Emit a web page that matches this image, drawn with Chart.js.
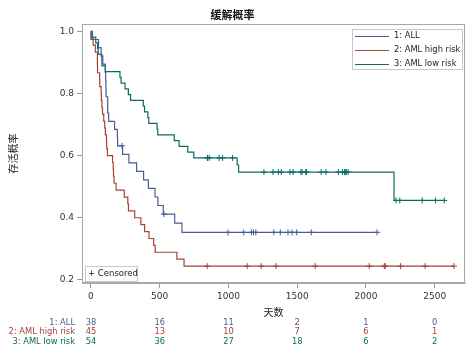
<!DOCTYPE html>
<html>
<head>
<meta charset="utf-8">
<script src="https://cdn.jsdelivr.net/npm/chart.js@4.4.1/dist/chart.umd.min.js"></script>
<style>
  html, body { margin: 0; padding: 0; background: #fff; }
  #wrap { width: 474px; height: 355px; position: relative; }
</style>
</head>
<body>
<div id="wrap"><canvas id="c" width="474" height="355"></canvas></div>
<script>
// ---------- data ----------
const chartTitle = '缓解概率';
const xTitle = '天数';
const yTitle = '存活概率';
const groupNames = ['1: ALL', '2: AML high risk', '3: AML low risk'];
const xTicks = [0, 500, 1000, 1500, 2000, 2500];
const yTicks = [0.2, 0.4, 0.6, 0.8, 1.0];

// ALL: step times and survival estimates
const allTimes = [0, 1, 55, 74, 86, 104, 107, 109, 110, 122, 129, 172, 192, 194, 230, 276, 332, 383, 418, 466, 487, 526, 609, 662, 2081];
const allSurv  = [1, 0.9737, 0.9474, 0.9211, 0.8947, 0.8684, 0.8421, 0.8158, 0.7895, 0.7368, 0.7105, 0.6842, 0.6579, 0.6316, 0.6041, 0.5767, 0.5492, 0.5217, 0.4943, 0.4668, 0.4394, 0.4119, 0.3825, 0.3531, 0.3531];
const allCensor = [226, 530, 996, 1111, 1167, 1182, 1199, 1330, 1377, 1433, 1462, 1496, 1602, 2081];

// AML high risk
const highTimes = [0, 2, 16, 32, 47, 48, 63, 64, 74, 76, 80, 84, 93, 100, 105, 113, 115, 120, 157, 162, 164, 168, 183, 242, 268, 273, 318, 363, 390, 422, 456, 467, 625, 677, 2640];
const highSurv  = [1, 0.9778, 0.9556, 0.9333, 0.8889, 0.8667, 0.8444, 0.8222, 0.8000, 0.7778, 0.7556, 0.7333, 0.7111, 0.6889, 0.6667, 0.6444, 0.6222, 0.6000, 0.5778, 0.5556, 0.5333, 0.5111, 0.4889, 0.4667, 0.4444, 0.4222, 0.4000, 0.3778, 0.3556, 0.3333, 0.3111, 0.2889, 0.2667, 0.2444, 0.2444];
const highCensor = [845, 1136, 1238, 1345, 1631, 2024, 2133, 2140, 2252, 2430, 2640];

// AML low risk
const lowTimes = [0, 10, 35, 48, 53, 79, 80, 105, 211, 219, 248, 272, 288, 381, 390, 414, 421, 481, 486, 606, 641, 704, 748, 1063, 1074, 2204, 2569];
const lowSurv  = [1, 0.9815, 0.9630, 0.9444, 0.9259, 0.9074, 0.8889, 0.8704, 0.8519, 0.8333, 0.8148, 0.7963, 0.7778, 0.7593, 0.7407, 0.7222, 0.7037, 0.6852, 0.6667, 0.6481, 0.6296, 0.6111, 0.5926, 0.5698, 0.5470, 0.4558, 0.4558];
const lowCensor = [847, 848, 860, 932, 957, 1030, 1258, 1324, 1363, 1384, 1447, 1470, 1527, 1535, 1562, 1568, 1674, 1709, 1799, 1829, 1843, 1850, 1857, 1870, 2218, 2246, 2409, 2506, 2569];

// numbers at risk at xTicks
const riskAll  = [38, 16, 11, 2, 1, 0];
const riskHigh = [45, 13, 10, 7, 6, 1];
const riskLow  = [54, 36, 27, 18, 6, 2];

// ---------- styling ----------
const colors = ['#4a5a9a', '#a8413a', '#0b6b62'];
const FONT = '"DejaVu Sans", "Noto Sans CJK SC", sans-serif';
const CJK = '"Noto Sans CJK SC", "DejaVu Sans", sans-serif';

function survAt(times, surv, t) {
  let s = surv[0];
  for (let i = 0; i < times.length; i++) { if (times[i] <= t) s = surv[i]; }
  return s;
}
function stepData(times, surv) { return times.map((t, i) => ({ x: t, y: surv[i] })); }
function censorData(times, surv, cens) { return cens.map(t => ({ x: t, y: survAt(times, surv, t) })); }

const groups = [
  { times: allTimes, surv: allSurv, cens: allCensor, risk: riskAll },
  { times: highTimes, surv: highSurv, cens: highCensor, risk: riskHigh },
  { times: lowTimes, surv: lowSurv, cens: lowCensor, risk: riskLow }
];

const datasets = [];
groups.forEach((g, i) => {
  datasets.push({
    label: groupNames[i], data: stepData(g.times, g.surv), showLine: true, stepped: 'before',
    borderColor: colors[i], borderWidth: 1.2, pointRadius: 0, fill: false, order: 2
  });
});
groups.forEach((g, i) => {
  datasets.push({
    label: groupNames[i] + ' censored', data: censorData(g.times, g.surv, g.cens), showLine: false,
    pointStyle: 'cross', pointRadius: 3, borderColor: colors[i], borderWidth: 1, backgroundColor: colors[i], order: 1
  });
});

const overlay = {
  id: 'overlay',
  afterDraw(chart) {
    const ctx = chart.ctx;
    const a = chart.chartArea;
    const xs = chart.scales.x;
    ctx.save();
    // frame
    ctx.strokeStyle = '#a8a8a8';
    ctx.lineWidth = 1;
    ctx.strokeRect(Math.round(a.left) + 0.5, Math.round(a.top) + 0.5, Math.round(a.right - a.left) - 1, Math.round(a.bottom - a.top) - 1);

    // legend box
    const lx = 352, ly = 29, lw = 110, lh = 40;
    ctx.fillStyle = '#fff';
    ctx.fillRect(lx, ly, lw, lh);
    ctx.strokeStyle = '#c8c8c8';
    ctx.strokeRect(lx + 0.5, ly + 0.5, lw, lh);
    ctx.font = '8.3px ' + FONT;
    ctx.textBaseline = 'middle';
    ctx.textAlign = 'left';
    groupNames.forEach((n, i) => {
      const y = 36 + i * 14;
      ctx.strokeStyle = colors[i];
      ctx.lineWidth = 1.2;
      ctx.beginPath(); ctx.moveTo(355, y + 0.5); ctx.lineTo(389, y + 0.5); ctx.stroke();
      ctx.fillStyle = '#222';
      ctx.fillText(n, 394, y);
    });

    // censored box
    ctx.fillStyle = '#fff';
    ctx.fillRect(85, 266, 52, 15);
    ctx.strokeStyle = '#c8c8c8';
    ctx.lineWidth = 1;
    ctx.strokeRect(85.5, 266.5, 52, 15);
    ctx.fillStyle = '#222';
    ctx.font = '8.5px ' + FONT;
    ctx.fillText('+ Censored', 88, 274);

    // at-risk table
    ctx.font = '8.3px ' + FONT;
    groups.forEach((g, i) => {
      const y = 322.5 + i * 9.5;
      ctx.fillStyle = colors[i];
      ctx.textAlign = 'right';
      ctx.fillText(groupNames[i], 75, y);
      ctx.textAlign = 'center';
      g.risk.forEach((v, j) => {
        ctx.fillText(String(v), xs.getPixelForValue(xTicks[j]), y);
      });
    });
    ctx.restore();
  }
};

new Chart(document.getElementById('c'), {
  type: 'scatter',
  data: { datasets },
  options: {
    responsive: false,
    animation: false,
    events: [],
    layout: { padding: { left: 0, right: 9, top: 0, bottom: 0 } },
    plugins: {
      legend: { display: false },
      tooltip: { enabled: false },
      title: {
        display: true, text: chartTitle, color: '#111',
        font: { family: CJK, size: 11, weight: 'bold' },
        padding: { top: 8, bottom: 3 }
      }
    },
    scales: {
      x: {
        type: 'linear', min: -65, max: 2720,
        afterBuildTicks: s => { s.ticks = xTicks.map(v => ({ value: v })); },
        afterFit: s => { s.height = 72; },
        ticks: { color: '#333', font: { family: FONT, size: 9 }, padding: 3, maxRotation: 0, callback: v => String(v) },
        grid: { display: true, drawOnChartArea: false, drawTicks: true, tickLength: 5, color: '#999' },
        border: { display: true, color: '#a8a8a8' },
        title: { display: true, text: xTitle, color: '#222', font: { family: CJK, size: 10 }, padding: { top: 0, bottom: 37 } }
      },
      y: {
        type: 'linear', min: 0.19, max: 1.023,
        afterBuildTicks: s => { s.ticks = yTicks.map(v => ({ value: v })); },
        afterFit: s => { s.width = 82; },
        ticks: { color: '#333', font: { family: FONT, size: 9 }, padding: 3, callback: v => Number(v).toFixed(1) },
        grid: { display: true, drawOnChartArea: false, drawTicks: true, tickLength: 5, color: '#999' },
        border: { display: true, color: '#a8a8a8' },
        title: { display: true, text: yTitle, color: '#222', font: { family: CJK, size: 10 }, padding: { top: 7, bottom: 0 } }
      }
    }
  },
  plugins: [overlay]
});
</script>
</body>
</html>
